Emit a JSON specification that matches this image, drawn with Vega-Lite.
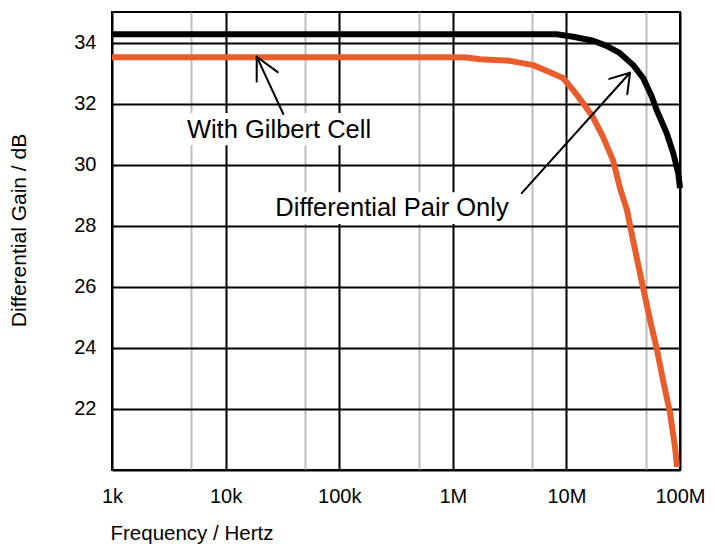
{
  "$schema": "https://vega.github.io/schema/vega-lite/v6.json",
  "width": 568,
  "height": 458,
  "autosize": {"type": "none"},
  "padding": {"left": 112, "top": 12, "right": 35, "bottom": 80},
  "background": "white",
  "config": {
    "font": "Liberation Sans",
    "view": {"stroke": "black", "strokeWidth": 2}
  },
  "datasets": {
    "curves": [
      {"freq": 1000, "gain": 34.27, "series": "Differential Pair Only"},
      {"freq": 100000, "gain": 34.27, "series": "Differential Pair Only"},
      {"freq": 3900000, "gain": 34.27, "series": "Differential Pair Only"},
      {"freq": 8200000, "gain": 34.27, "series": "Differential Pair Only"},
      {"freq": 11500000, "gain": 34.19, "series": "Differential Pair Only"},
      {"freq": 17250000, "gain": 34.06, "series": "Differential Pair Only"},
      {"freq": 22600000, "gain": 33.89, "series": "Differential Pair Only"},
      {"freq": 29600000, "gain": 33.65, "series": "Differential Pair Only"},
      {"freq": 38800000, "gain": 33.26, "series": "Differential Pair Only"},
      {"freq": 47500000, "gain": 32.83, "series": "Differential Pair Only"},
      {"freq": 56400000, "gain": 32.23, "series": "Differential Pair Only"},
      {"freq": 62300000, "gain": 31.79, "series": "Differential Pair Only"},
      {"freq": 76400000, "gain": 31.03, "series": "Differential Pair Only"},
      {"freq": 87300000, "gain": 30.37, "series": "Differential Pair Only"},
      {"freq": 96600000, "gain": 29.72, "series": "Differential Pair Only"},
      {"freq": 100000000, "gain": 29.23, "series": "Differential Pair Only"},
      {"freq": 1000, "gain": 33.52, "series": "With Gilbert Cell"},
      {"freq": 1000000, "gain": 33.52, "series": "With Gilbert Cell"},
      {"freq": 1330000, "gain": 33.51, "series": "With Gilbert Cell"},
      {"freq": 1735000, "gain": 33.45, "series": "With Gilbert Cell"},
      {"freq": 3190000, "gain": 33.4, "series": "With Gilbert Cell"},
      {"freq": 5080000, "gain": 33.26, "series": "With Gilbert Cell"},
      {"freq": 7170000, "gain": 33.03, "series": "With Gilbert Cell"},
      {"freq": 9330000, "gain": 32.84, "series": "With Gilbert Cell"},
      {"freq": 11430000, "gain": 32.45, "series": "With Gilbert Cell"},
      {"freq": 14000000, "gain": 32.02, "series": "With Gilbert Cell"},
      {"freq": 17100000, "gain": 31.56, "series": "With Gilbert Cell"},
      {"freq": 21000000, "gain": 30.91, "series": "With Gilbert Cell"},
      {"freq": 25700000, "gain": 30.15, "series": "With Gilbert Cell"},
      {"freq": 29600000, "gain": 29.24, "series": "With Gilbert Cell"},
      {"freq": 34100000, "gain": 28.52, "series": "With Gilbert Cell"},
      {"freq": 38600000, "gain": 27.53, "series": "With Gilbert Cell"},
      {"freq": 47200000, "gain": 25.99, "series": "With Gilbert Cell"},
      {"freq": 54500000, "gain": 24.91, "series": "With Gilbert Cell"},
      {"freq": 62800000, "gain": 23.93, "series": "With Gilbert Cell"},
      {"freq": 70800000, "gain": 22.95, "series": "With Gilbert Cell"},
      {"freq": 81700000, "gain": 21.87, "series": "With Gilbert Cell"},
      {"freq": 90400000, "gain": 20.75, "series": "With Gilbert Cell"},
      {"freq": 94200000, "gain": 20.1, "series": "With Gilbert Cell"}
    ],
    "labels": [
      {"label": "With Gilbert Cell", "freq": 29500, "gain": 30.88, "freq_lo": 4217, "freq_hi": 210900, "gain_lo": 30.64, "gain_hi": 31.69},
      {"label": "Differential Pair Only", "freq": 291700, "gain": 28.32, "freq_lo": 24600, "freq_hi": 3532000, "gain_lo": 28.06, "gain_hi": 29.1}
    ],
    "arrows": [
      {"freq": 32210, "gain": 31.66, "freq_end": 18790, "gain_end": 33.536},
      {"freq": 18790, "gain": 33.536, "freq_end": 18790, "gain_end": 32.72},
      {"freq": 18790, "gain": 33.536, "freq_end": 28740, "gain_end": 33.03},
      {"freq": 4042000, "gain": 29.07, "freq_end": 36300000, "gain_end": 33.01},
      {"freq": 36300000, "gain": 33.01, "freq_end": 23850000, "gain_end": 32.81},
      {"freq": 36300000, "gain": 33.01, "freq_end": 34360000, "gain_end": 32.31}
    ]
  },
  "encoding": {
    "x": {
      "field": "freq",
      "type": "quantitative",
      "scale": {"type": "log", "domain": [1000, 100000000], "nice": false},
      "axis": {
        "values": [1000, 5000, 10000, 50000, 100000, 500000, 1000000, 5000000, 10000000, 50000000, 100000000],
        "labelExpr": "datum.value == 1000 ? '1k' : datum.value == 10000 ? '10k' : datum.value == 100000 ? '100k' : datum.value == 1000000 ? '1M' : datum.value == 10000000 ? '10M' : datum.value == 100000000 ? '100M' : ''",
        "ticks": false,
        "grid": true,
        "gridWidth": 2,
        "gridColor": {
          "condition": {"test": "datum.value == 5000 || datum.value == 50000 || datum.value == 500000 || datum.value == 5000000 || datum.value == 50000000", "value": "#bdbdbd"},
          "value": "black"
        },
        "gridOpacity": 1,
        "domainColor": "black",
        "domainWidth": 2,
        "labelFontSize": 20,
        "labelColor": "black",
        "labelPadding": 16,
        "labelOverlap": false,
        "labelFlush": false,
        "title": "Frequency / Hertz",
        "titleFontSize": 20.5,
        "titleFontWeight": "normal",
        "titleColor": "black",
        "titleAnchor": "start",
        "titleAlign": "left",
        "titleBaseline": "alphabetic",
        "titleX": -2,
        "titleY": 69
      }
    },
    "y": {
      "field": "gain",
      "type": "quantitative",
      "scale": {"domain": [20, 35], "nice": false, "zero": false},
      "axis": {
        "values": [22, 24, 26, 28, 30, 32, 34],
        "ticks": false,
        "grid": true,
        "gridWidth": 2,
        "gridColor": "black",
        "gridOpacity": 1,
        "domain": false,
        "labelFontSize": 20,
        "labelColor": "black",
        "labelPadding": 16,
        "labelBaseline": "middle",
        "title": "Differential Gain / dB",
        "titleFontSize": 21,
        "titleFontWeight": "normal",
        "titleColor": "black",
        "titleAngle": -90,
        "titleAlign": "center",
        "titleBaseline": "alphabetic",
        "titleX": -87,
        "titleY": 218
      }
    }
  },
  "layer": [
    {
      "data": {"name": "labels"},
      "mark": {"type": "rect", "fill": "white", "stroke": null},
      "encoding": {
        "x": {"field": "freq_lo", "type": "quantitative"},
        "x2": {"field": "freq_hi"},
        "y": {"field": "gain_lo", "type": "quantitative"},
        "y2": {"field": "gain_hi"}
      }
    },
    {
      "data": {"name": "curves"},
      "mark": {"type": "line", "strokeWidth": 6, "strokeCap": "butt", "strokeJoin": "round"},
      "encoding": {
        "color": {
          "field": "series",
          "type": "nominal",
          "scale": {"domain": ["Differential Pair Only", "With Gilbert Cell"], "range": ["#000000", "#e95c2b"]},
          "legend": null
        },
        "order": {"field": "freq", "type": "quantitative"}
      }
    },
    {
      "data": {"name": "labels"},
      "mark": {"type": "text", "fontSize": 25.5, "align": "center", "baseline": "alphabetic", "color": "black"},
      "encoding": {
        "text": {"field": "label", "type": "nominal"}
      }
    },
    {
      "data": {"name": "arrows"},
      "mark": {"type": "rule", "color": "black", "strokeWidth": 2, "strokeCap": "round"},
      "encoding": {
        "x2": {"field": "freq_end"},
        "y2": {"field": "gain_end"}
      }
    },
    {
      "mark": {"type": "rule", "color": "black", "strokeWidth": 6},
      "encoding": {
        "x": {"datum": 1000, "type": "quantitative"},
        "y": null
      }
    }
  ]
}
